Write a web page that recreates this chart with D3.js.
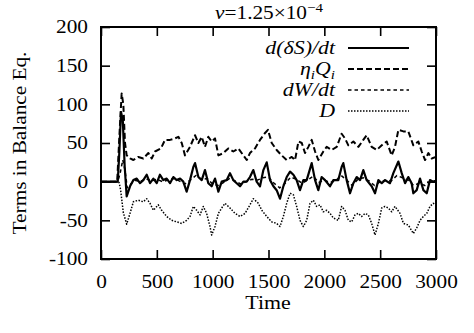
<!DOCTYPE html>
<html><head><meta charset="utf-8">
<script src="https://cdn.jsdelivr.net/npm/d3@7"></script>
<style>body{margin:0;background:#fff}svg{display:block}</style>
</head><body><svg id="c" width="474" height="333"></svg>
<script>
const xTicks = [0,500,1000,1500,2000,2500,3000];
const yTicks = [-100,-50,0,50,100,150,200];
const seriesNames = ["d(δS)/dt","ηiQi","dW/dt","D"];

const dSdt = [[0,0],[150,0],[165,40],[179,90],[195,80],[212,20],[230,-19],[260,-6],[290,2],[320,4],[349,-2],[379,2],[409,9],[439,-2],[469,4],[499,-2],[528,9],[558,2],[588,4],[618,-2],[648,6],[678,2],[708,4],[737,0],[767,-13],[797,2],[827,19],[842,24],[872,6],[902,2],[931,15],[961,-2],[991,-6],[1021,4],[1051,-13],[1081,0],[1125,2],[1155,11],[1185,2],[1215,-2],[1245,-6],[1275,0],[1305,0],[1334,6],[1364,15],[1394,0],[1424,-6],[1454,15],[1484,25],[1514,2],[1544,-6],[1573,-11],[1603,-22],[1633,-6],[1663,6],[1693,13],[1723,9],[1752,2],[1782,-11],[1812,2],[1842,2],[1887,24],[1917,2],[1946,-11],[1976,6],[2006,2],[2051,-6],[2081,2],[2125,2],[2155,19],[2170,24],[2200,2],[2230,-15],[2260,-2],[2290,6],[2320,2],[2349,15],[2379,2],[2424,-6],[2454,-15],[2484,2],[2514,-2],[2543,2],[2588,-2],[2618,11],[2663,26],[2693,11],[2723,-2],[2752,6],[2782,-2],[2797,-15],[2827,-11],[2857,4],[2887,-11],[2917,-15],[2946,2],[2976,0],[3000,1]];

const etaQ = [[0,0],[145,0],[165,60],[185,114],[200,100],[215,50],[230,34],[260,30],[290,28],[334,32],[379,30],[424,37],[454,30],[484,39],[537,43],[573,54],[618,54],[663,56],[693,58],[723,50],[752,34],[797,45],[842,60],[872,50],[902,58],[931,45],[961,58],[991,52],[1021,56],[1051,34],[1096,37],[1140,43],[1185,39],[1230,43],[1275,34],[1305,28],[1334,37],[1379,43],[1424,54],[1469,63],[1495,67],[1529,50],[1573,41],[1618,34],[1663,28],[1708,32],[1738,28],[1768,52],[1798,50],[1827,37],[1857,45],[1887,54],[1917,39],[1946,28],[1991,39],[2021,45],[2066,41],[2111,45],[2155,62],[2185,56],[2215,47],[2260,52],[2305,45],[2349,54],[2379,60],[2424,45],[2469,41],[2514,47],[2558,52],[2603,34],[2633,45],[2663,67],[2708,65],[2752,65],[2797,47],[2842,52],[2872,39],[2902,28],[2932,37],[2961,30],[3000,32]];

const dWdt = [[0,0],[150,0],[170,10],[195,28],[215,15],[235,-8],[260,-4],[300,2],[350,0],[400,4],[450,1],[500,3],[550,0],[600,2],[650,4],[700,1],[750,-3],[800,2],[850,8],[900,3],[950,4],[1000,-3],[1050,-5],[1100,-1],[1150,4],[1200,1],[1250,-3],[1300,0],[1350,3],[1400,2],[1450,5],[1500,6],[1550,-2],[1600,-8],[1650,-2],[1700,6],[1750,3],[1800,-2],[1850,2],[1900,7],[1950,-1],[2000,2],[2050,-1],[2100,1],[2150,8],[2200,2],[2250,-5],[2300,3],[2350,5],[2400,1],[2450,-5],[2500,0],[2550,2],[2600,1],[2650,8],[2700,5],[2750,2],[2800,-5],[2850,-2],[2900,-5],[2950,0],[3000,1]];

const Dis = [[0,0],[160,0],[175,-10],[200,-40],[230,-55],[260,-41],[290,-26],[334,-24],[379,-26],[409,-22],[439,-28],[469,-37],[513,-30],[543,-37],[588,-45],[633,-50],[678,-52],[723,-54],[767,-50],[797,-45],[827,-32],[857,-37],[887,-43],[916,-32],[946,-41],[976,-58],[991,-69],[1021,-58],[1051,-41],[1081,-34],[1110,-28],[1155,-34],[1200,-41],[1245,-45],[1290,-41],[1334,-30],[1364,-22],[1409,-28],[1440,-37],[1484,-45],[1529,-52],[1573,-54],[1603,-58],[1633,-45],[1663,-28],[1693,-15],[1723,-17],[1752,-32],[1782,-50],[1812,-58],[1842,-50],[1872,-28],[1902,-24],[1931,-32],[1961,-30],[1991,-39],[2021,-37],[2051,-41],[2081,-47],[2125,-50],[2155,-32],[2185,-37],[2215,-50],[2245,-52],[2275,-43],[2305,-41],[2334,-45],[2364,-41],[2394,-43],[2424,-54],[2454,-69],[2484,-54],[2514,-34],[2543,-32],[2573,-34],[2603,-39],[2633,-32],[2678,-41],[2708,-54],[2752,-56],[2797,-67],[2827,-60],[2857,-50],[2887,-45],[2917,-41],[2946,-32],[2976,-28],[3000,-30]];

const FONT = "Liberation Serif";
const svg = d3.select("#c");
const L=101,R=436,T=27,B=259;
const x = d3.scaleLinear().domain([0,3000]).range([L,R]);
const y = d3.scaleLinear().domain([-100,200]).range([B,T]);
const tk=9;
const fmt = d => String(d);

const gx = svg.append("g").attr("transform",`translate(0,${B})`)
  .call(d3.axisBottom(x).tickValues(xTicks).tickSize(-tk).tickFormat(fmt));
const gxt = svg.append("g").attr("transform",`translate(0,${T})`)
  .call(d3.axisTop(x).tickValues(xTicks).tickSize(-tk).tickFormat(""));
const gy = svg.append("g").attr("transform",`translate(${L},0)`)
  .call(d3.axisLeft(y).tickValues(yTicks).tickSize(-tk).tickPadding(13).tickFormat(fmt));
const gyr = svg.append("g").attr("transform",`translate(${R},0)`)
  .call(d3.axisRight(y).tickValues(yTicks).tickSize(-tk).tickFormat(""));
[gx,gxt,gy,gyr].forEach(g=>{g.attr("font-family",FONT).attr("font-size",18.5);
  g.select(".domain").remove();g.selectAll("line").attr("stroke","#000").attr("stroke-width",1.6);
  g.selectAll("text").attr("fill","#000").attr("font-family",FONT);});
gx.selectAll("text").attr("y",23).attr("dy","0.35em");
svg.append("rect").attr("x",L).attr("y",T).attr("width",R-L).attr("height",B-T).attr("fill","none").attr("stroke","#000").attr("stroke-width",2);

const line = d3.line().x(d=>x(d[0])).y(d=>y(d[1]));
const styles = [
  {data:dSdt, w:2.2, dash:null},
  {data:etaQ, w:2.0, dash:"6,3"},
  {data:dWdt, w:1.5, dash:"3.5,3"},
  {data:Dis, w:1.5, dash:"1.5,1.5"}
];
const g = svg.append("g");
styles.slice().reverse().forEach(s=>{
  g.append("path").attr("d",line(s.data)).attr("fill","none").attr("stroke","#000")
   .attr("stroke-width",s.w).attr("stroke-dasharray",s.dash).attr("stroke-linejoin","round");
});

const legY=[48,69,90,111];
const leg = svg.append("g");
styles.forEach((s,i)=>{
  leg.append("line").attr("x1",348).attr("x2",409).attr("y1",legY[i]).attr("y2",legY[i])
    .attr("stroke","#000").attr("stroke-width",s.w).attr("stroke-dasharray",s.dash);
});
const lt = (i)=>leg.append("text").attr("x",335).attr("y",legY[i]).attr("dy","0.32em").attr("text-anchor","end")
  .attr("font-family",FONT).attr("font-size",19).attr("font-style","italic");
lt(0).text(seriesNames[0]);
const t1=lt(1);
t1.append("tspan").text("η"); t1.append("tspan").text("i").attr("dy",4).attr("font-size",13);
t1.append("tspan").text("Q").attr("dy",-4); t1.append("tspan").text("i").attr("dy",4).attr("font-size",13);
lt(2).text(seriesNames[2]);
lt(3).text(seriesNames[3]);

const tt = svg.append("text").attr("x",269).attr("y",19).attr("text-anchor","middle").attr("font-family",FONT).attr("font-size",18.5);
tt.append("tspan").text("ν").attr("font-style","italic");
tt.append("tspan").text("=1.25×10");
tt.append("tspan").text("−4").attr("dy",-7).attr("font-size",13);

svg.append("text").attr("x",268).attr("y",309).attr("text-anchor","middle").attr("font-family",FONT).attr("font-size",19).text("Time");
svg.append("text").attr("transform","translate(26,143) rotate(-90)").attr("text-anchor","middle").attr("font-family",FONT).attr("font-size",18.5).text("Terms in Balance Eq.");

svg.selectAll("text").each(function(){
  const n=this; const w=n.getComputedTextLength();
  if(w>0){ d3.select(n).attr("textLength",w*1.15).attr("lengthAdjust","spacingAndGlyphs"); }
});
</script></body></html>
